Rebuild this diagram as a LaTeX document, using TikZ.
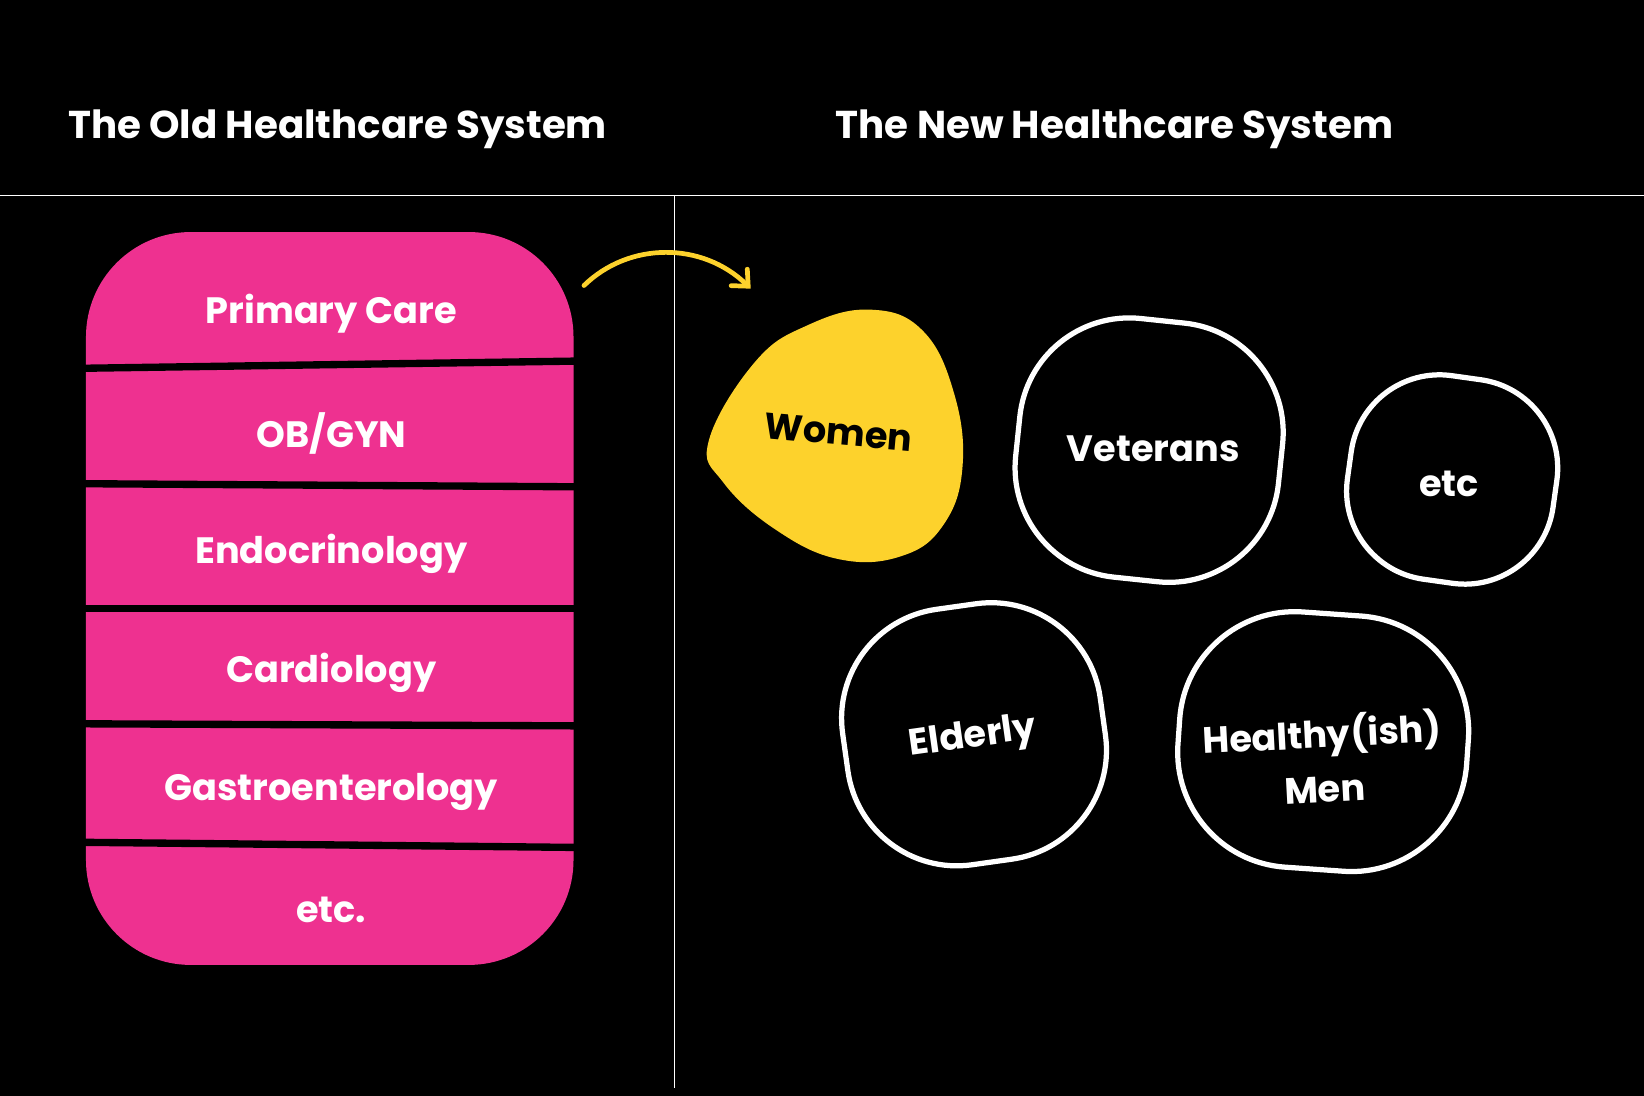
\documentclass[tikz,border=0pt]{standalone}
\usepackage{fontspec}
\setmainfont{Poppins}
\usetikzlibrary{arrows.meta}
\definecolor{pinkc}{HTML}{EE3190}
\definecolor{yelc}{HTML}{FDD22C}
\tikzset{
 lbl/.style={text=white,font=\fontsize{35}{52}\selectfont\bfseries,align=center},
 ttl/.style={text=white,font=\fontsize{37}{40}\selectfont\bfseries,anchor=base},
 sep/.style={black,line width=7pt},
 blob/.style={draw=white,line width=5pt,shape=rectangle},
}
\begin{document}
\begin{tikzpicture}[x=1pt,y=1pt]
\fill[black] (0,0) rectangle (1568,1045.33);
\useasboundingbox (0,0) rectangle (1568,1045.33);
\node[ttl] (t1) at (322,913) {The Old Healthcare System};
\node[ttl] (t2) at (1063,913) {The New Healthcare System};
\draw[white,line width=1pt] (0,859) -- (1568,859);
\draw[white,line width=1pt] (643,859) -- (643,8);
% pink block
\fill[pinkc,rounded corners=100pt] (82,125) rectangle (547,824);
\draw[sep] (75,694) -- (555,701);
\draw[sep] (75,584) -- (555,581);
\draw[sep] (75,465) -- (555,465);
\draw[sep] (75,355) -- (555,353);
\draw[sep] (75,242) -- (555,237);
\node[lbl] (n1) at (316,746) {Primary Care};
\node[lbl] (n2) at (316,632) {OB/GYN};
\node[lbl] (n3) at (316,517) {Endocrinology};
\node[lbl] (n4) at (316,404) {Cardiology};
\node[lbl] (n5) at (316,290) {Gastroenterology};
\node[lbl] (n6) at (316,177) {etc.};
% arrow
\coordinate (a1) at (557,773);
\coordinate (a2) at (716,770);
\draw[yelc,line width=4.5pt,line cap=round,-{Straight Barb[length=12pt,width=22pt,line cap=round]}] (a1) .. controls (600,815) and (670,815) .. (a2);
% blobs
\fill[yelc] plot[smooth cycle,tension=0.7] coordinates {(720,700) (770,735) (830,750) (880,730) (910,670) (918,600) (900,545) (860,515) (800,512) (740,540) (690,585) (676,625)};
\node[lbl,text=black,rotate=-5] (w) at (800,633) {Women};
\draw[blob,rounded corners=105pt,rotate around={-6:(1096,616)}] (970,492) rectangle (1222,740);
\node[lbl] (v) at (1100,617) {Veterans};
\draw[blob,rounded corners=85pt,rotate around={-8:(1385,588)}] (1286,490) rectangle (1484,686);
\node[lbl] (e) at (1382,584) {etc};
\draw[blob,rounded corners=105pt,rotate around={8:(929,345)}] (805,222) rectangle (1053,468);
\node[lbl,rotate=8] (el) at (928,341) {Elderly};
\draw[blob,rounded corners=110pt,rotate around={-4:(1262,338)}] (1124,216) rectangle (1400,460);
\node[lbl,rotate=3] (h) at (1262,322) {Healthy(ish)\\Men};
\end{tikzpicture}
\end{document}
